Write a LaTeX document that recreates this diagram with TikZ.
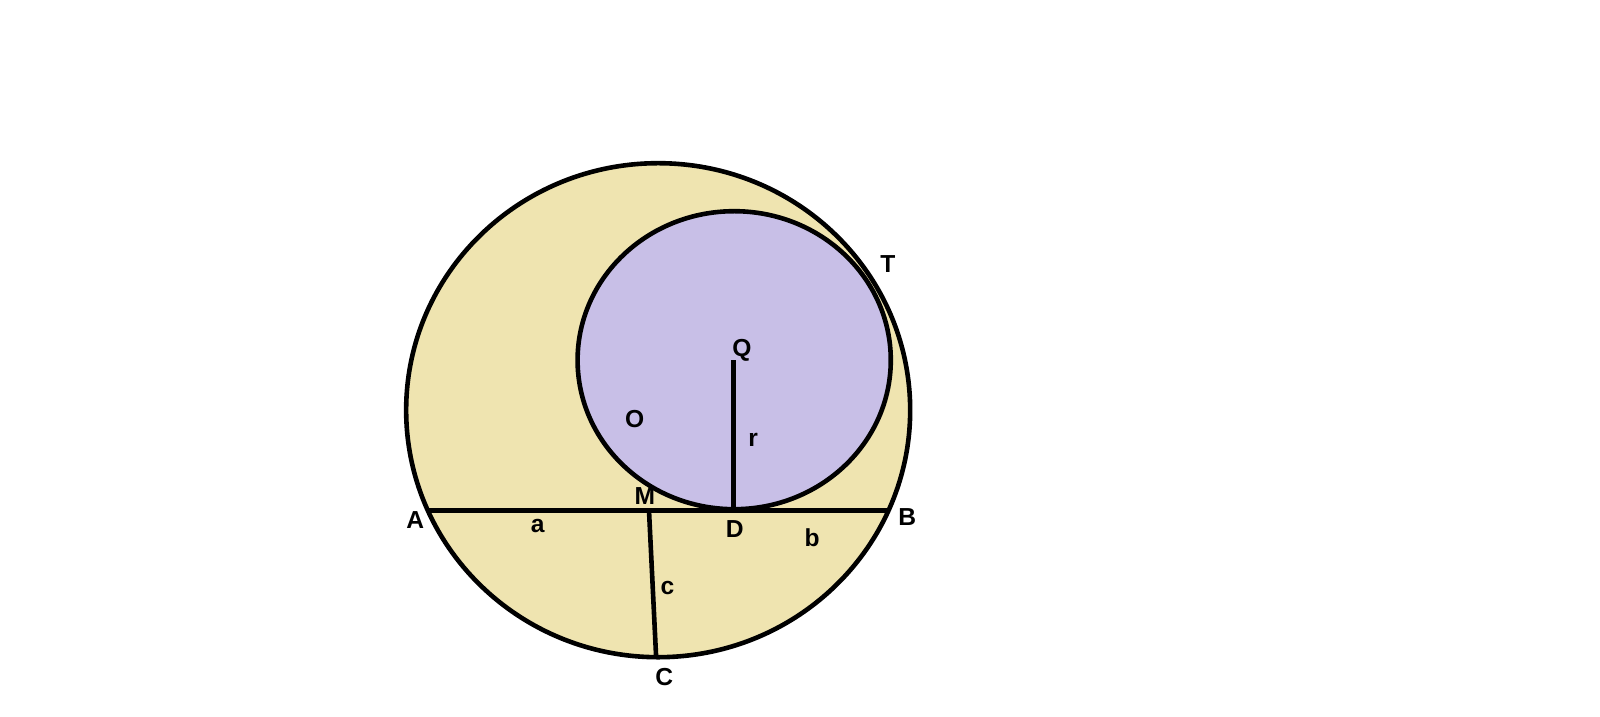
\documentclass[tikz,border=0pt]{standalone}
\usepackage{fontspec}
\setmainfont{Liberation Sans}
\usetikzlibrary{positioning}
\definecolor{sand}{RGB}{239,228,176}
\definecolor{lilac}{RGB}{200,191,231}
\tikzset{lbl/.style={inner sep=0pt,font=\fontsize{12.3}{14}\selectfont\bfseries}}

\begin{document}
\begin{tikzpicture}[x=0.5102pt,y=-0.5102pt,line width=2.3pt]
\useasboundingbox (0,0) rectangle (1568,701.7);
\draw[fill=sand] (645,402) ellipse [x radius=126pt, y radius=123.5pt];
\draw[fill=lilac] (719.5,353) ellipse [x radius=78.3pt, y radius=74.5pt];

\path
(419,500) coordinate (A)
(870,500) coordinate (B)
(636,500) coordinate (M)
(643,644) coordinate (C)
(719,499) coordinate (D)
(719,353) coordinate (Q);

\path
(407,510) node[lbl] (la) {A}
(889,507) node[lbl] (lb) {B}
(632,486) node[lbl] (lm) {M}
(720,518) node[lbl] (ld) {D}
(651,663) node[lbl] (lc) {C}
(727,343) node[lbl] (lq) {Q}
(622,411) node[lbl] (lo) {O}
(870,259) node[lbl] (lt) {T}
(527,515) node[lbl] (sa) {a}
(796,527) node[lbl] (sb) {b}
(654,576) node[lbl] (sc) {c}
(738,431) node[lbl] (sr) {r};

\draw (A)--(B);
\draw (M)--(C);
\draw (Q)--(D);
\end{tikzpicture}
\end{document}
